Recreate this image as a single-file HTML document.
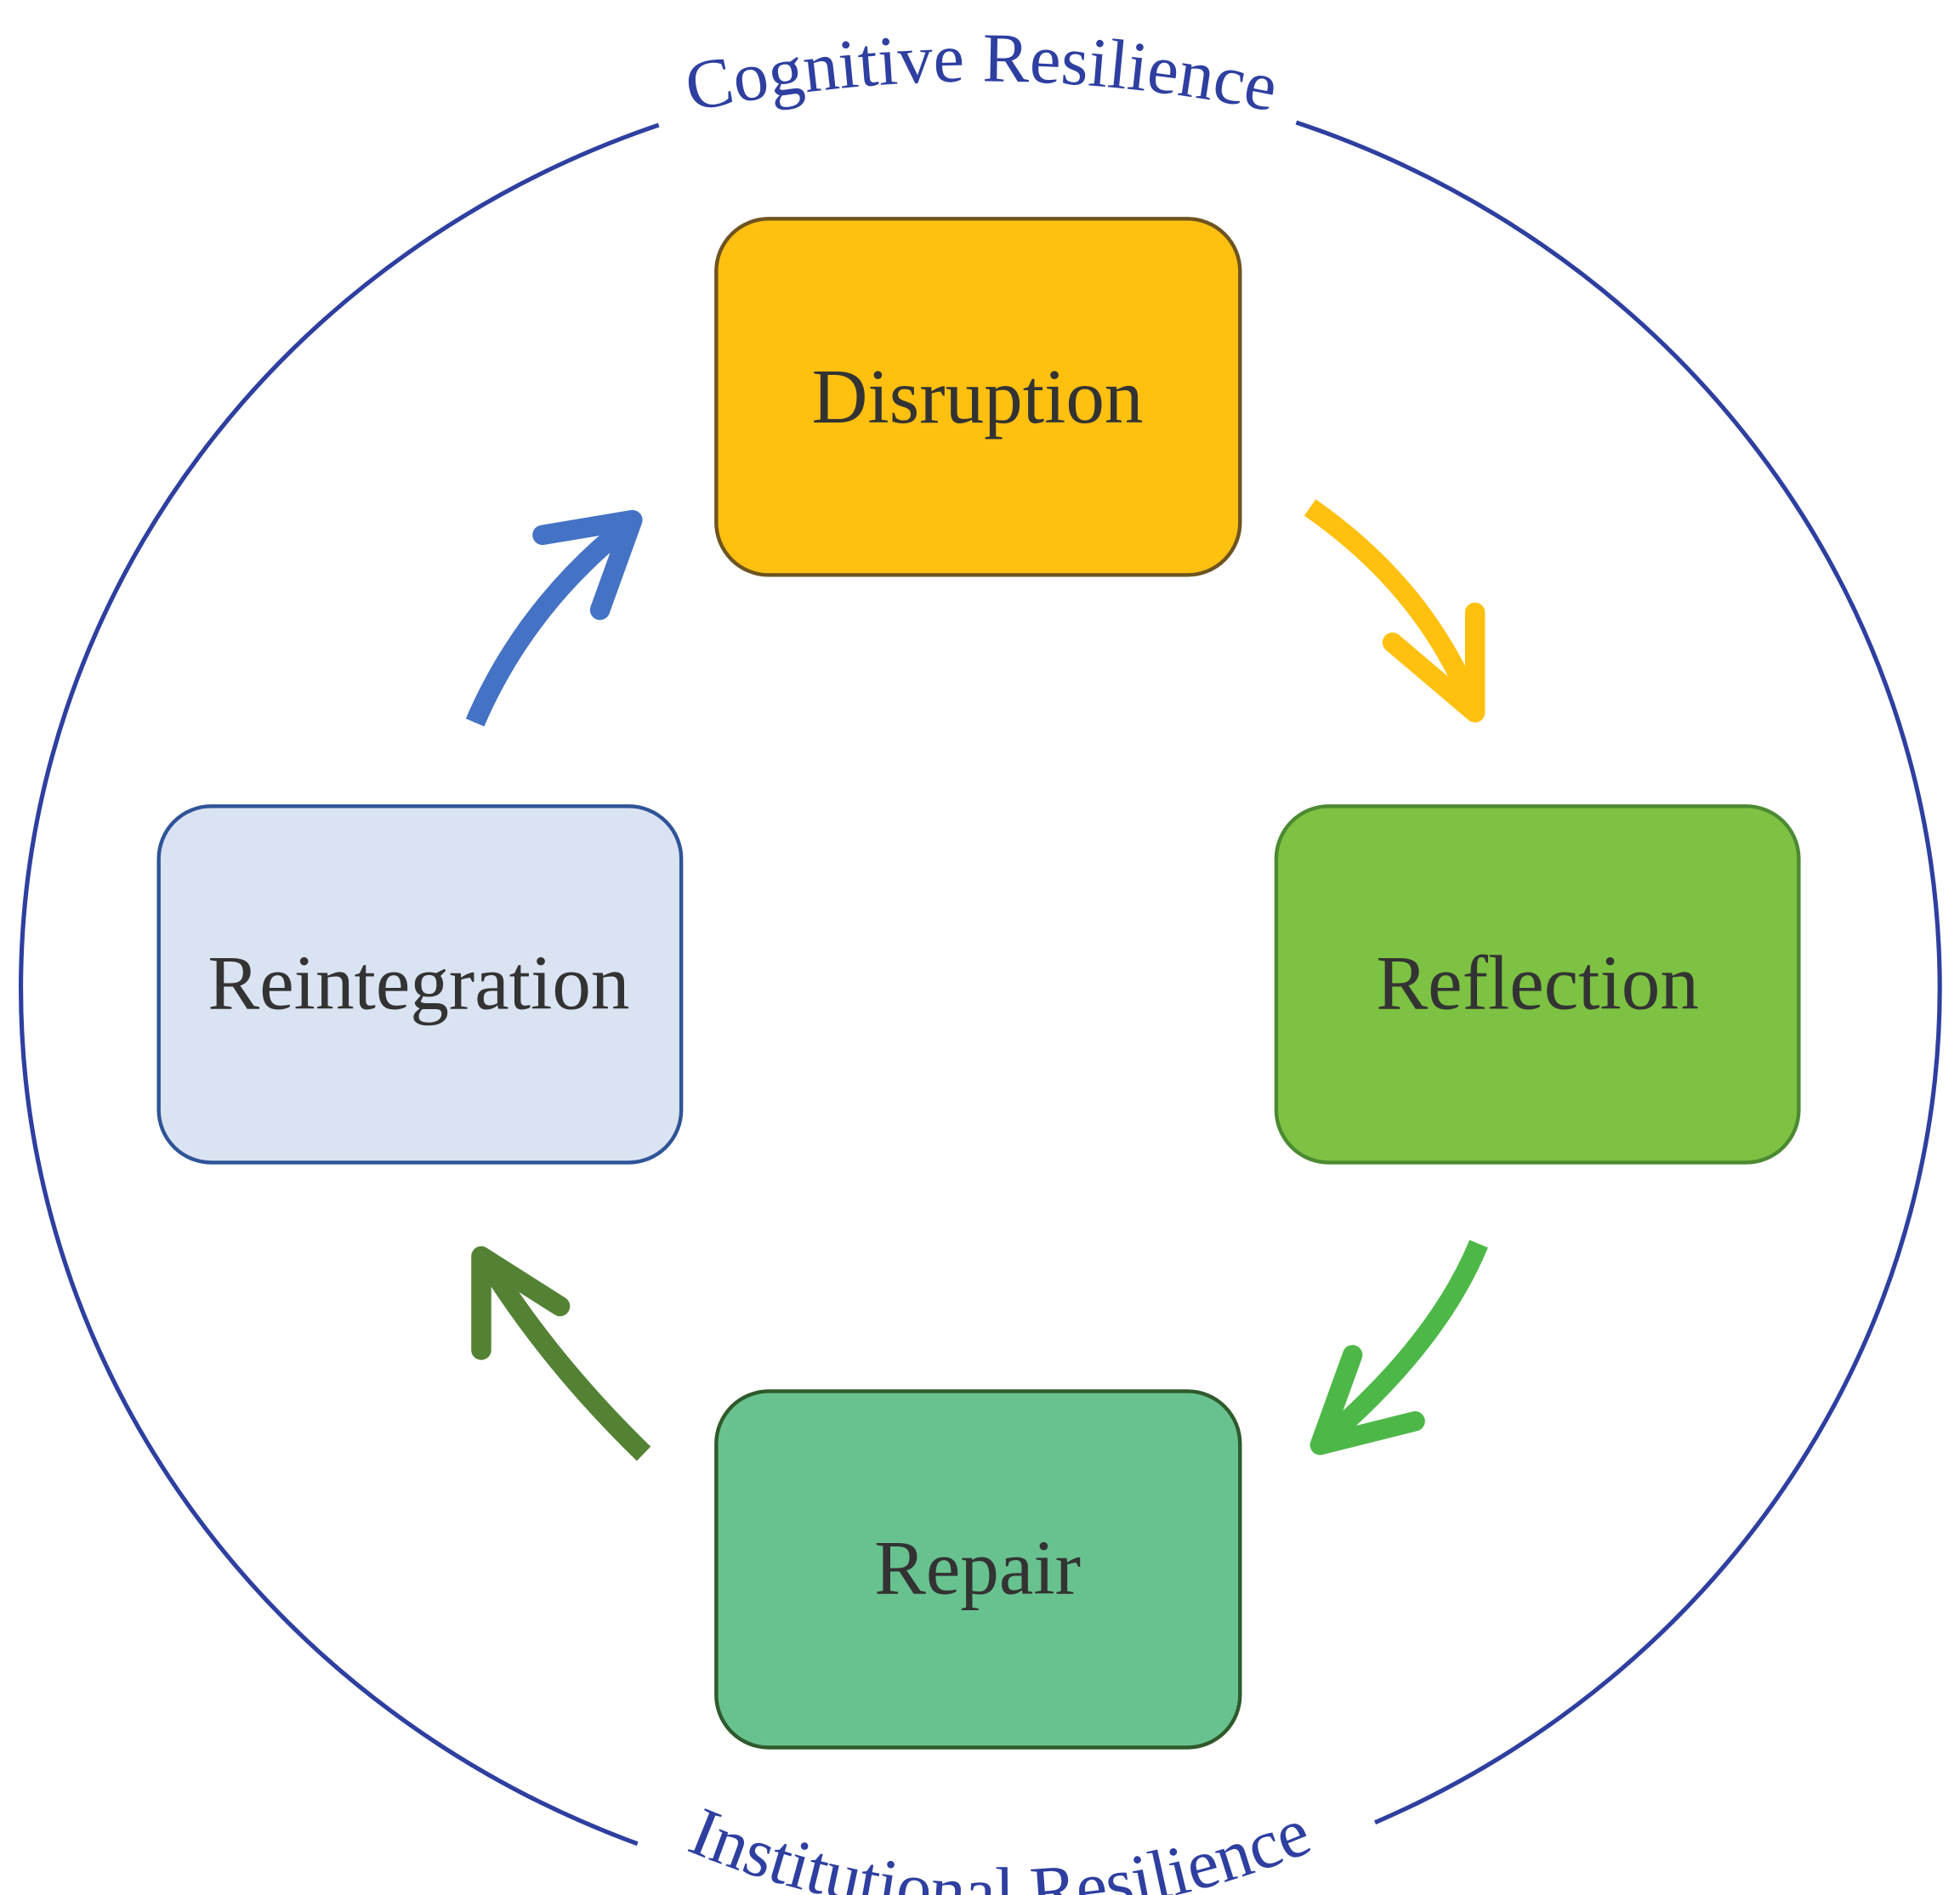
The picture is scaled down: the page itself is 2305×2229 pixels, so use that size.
<!DOCTYPE html>
<html><head><meta charset="utf-8"><style>html,body{margin:0;padding:0;background:#fff}svg{display:block}</style></head>
<body>
<svg width="2305" height="2229" viewBox="0 0 1568 1516" preserveAspectRatio="none" xmlns="http://www.w3.org/2000/svg">
<defs>
<path id="tp" d="M 460 112 Q 785 18 1110 112"/>
<path id="bp" d="M 440 1425 Q 800 1640 1160 1425"/>
</defs>
<g fill="none" stroke="#2E3FA0" stroke-width="3.5">
<path d="M 527 100 A 768 733 0 0 0 510 1475"/>
<path d="M 1037 98 A 768 733 0 0 1 1100 1458"/>
</g>
<g font-family="'Liberation Serif',serif" fill="#2E3FA0" font-size="56">
<text><textPath href="#tp" startOffset="50%" text-anchor="middle">Cognitive Resilience</textPath></text>
<text><textPath href="#bp" startOffset="50%" text-anchor="middle">Institutional Resilience</textPath></text>
</g>
<g stroke-width="3">
<rect x="573" y="175" width="419" height="285" rx="42" fill="#FFC010" stroke="#6e5420"/>
<rect x="1021" y="645" width="418" height="285" rx="42" fill="#7DC242" stroke="#4c8a32"/>
<rect x="573" y="1113" width="419" height="285" rx="42" fill="#68C28F" stroke="#2f5a2c"/>
<rect x="127" y="645" width="418" height="285" rx="42" fill="#DAE3F2" stroke="#2F5497"/>
</g>
<g font-family="'Liberation Serif',serif" font-size="62" fill="#333" text-anchor="middle">
<text x="782" y="338">Disruption</text>
<text x="1230" y="807">Reflection</text>
<text x="782" y="1275">Repair</text>
<text x="335" y="807">Reintegration</text>
</g>
<g fill="none" stroke-width="16" stroke-linejoin="round" stroke-linecap="round">
<path d="M1048 406 Q1140 470 1178 565" stroke="#FFC010" stroke-linecap="butt"/>
<polyline points="1114,514 1180,570 1180,490" stroke="#FFC010"/>
<path d="M1183 995 Q1150 1075 1060 1152" stroke="#4DB848" stroke-linecap="butt"/>
<polyline points="1132,1137 1056,1156 1082,1084" stroke="#4DB848"/>
<path d="M515 1163 Q440 1090 390 1010" stroke="#548235" stroke-linecap="butt"/>
<polyline points="385,1080 385,1005 448,1045" stroke="#548235"/>
<path d="M380 578 Q420 485 502 420" stroke="#4472C4" stroke-linecap="butt"/>
<polyline points="434,428 506,416 480,488" stroke="#4472C4"/>
</g>
</svg>
</body></html>
